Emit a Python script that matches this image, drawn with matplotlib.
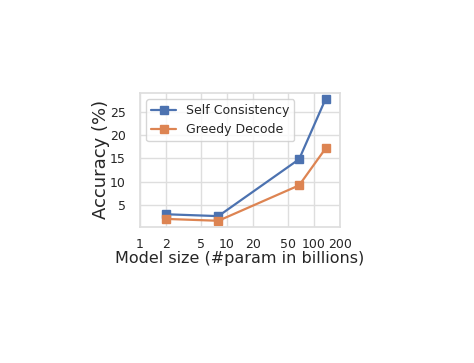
import matplotlib
matplotlib.use('Agg')
import matplotlib.pyplot as plt
import seaborn as sns

sns.set_theme(style='whitegrid', palette='deep')
plt.rcParams['grid.color'] = '#dedede'
plt.rcParams['axes.edgecolor'] = '#dedede'

# model sizes (billions) and accuracies
sizes = [2, 8, 68, 137]
self_consistency = [3.0, 2.6, 14.8, 27.7]
greedy_decode = [2.0, 1.6, 9.2, 17.1]
xticks = [1, 2, 5, 10, 20, 50, 100, 200]

fig = plt.figure(figsize=(4.74, 3.63), dpi=100)
ax = fig.add_axes([0.295, 0.375, 0.422, 0.369])

ax.plot(sizes, self_consistency, marker='s', markersize=5.5, linewidth=1.6,
        color='#4C72B0', label='Self Consistency')
ax.plot(sizes, greedy_decode, marker='s', markersize=5.5, linewidth=1.6,
        color='#DD8452', label='Greedy Decode')

ax.set_xscale('log')
ax.set_xlim(1, 200)
ax.set_xticks(xticks)
ax.set_xticklabels([str(t) for t in xticks])
ax.minorticks_off()
ax.set_yticks([5, 10, 15, 20, 25])
ax.tick_params(labelsize=9, labelcolor='#262626')
ax.tick_params(axis='x', pad=2)
ax.tick_params(axis='y', pad=4)

ax.set_xlabel('Model size (#param in billions)', fontsize=11.5, labelpad=0)
ax.set_ylabel('Accuracy (%)', fontsize=13, labelpad=0)
ax.legend(loc='upper left', fontsize=9, frameon=True)

fig.savefig('out.png', dpi=100)
